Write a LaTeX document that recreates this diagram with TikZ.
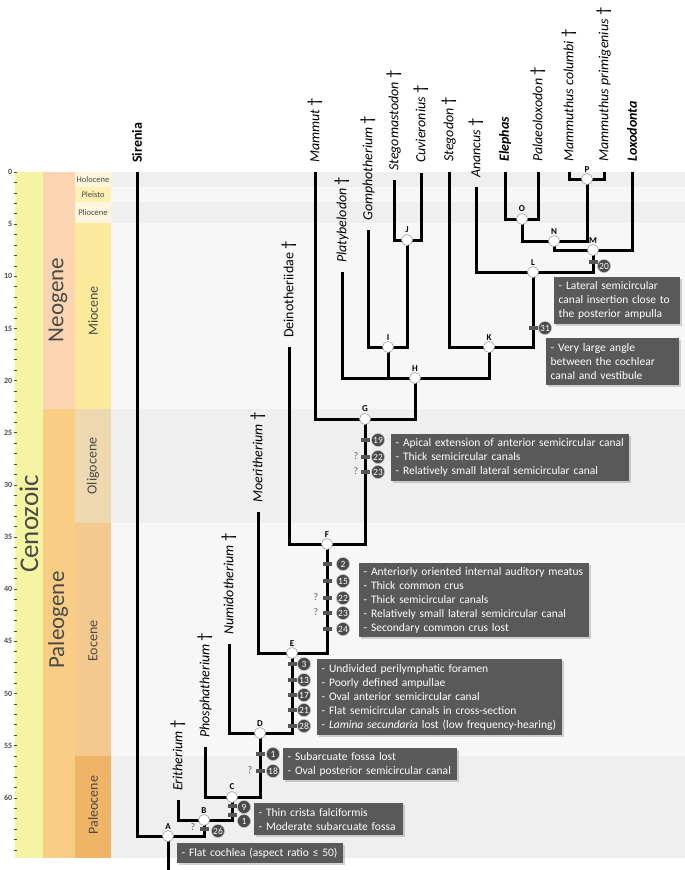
\documentclass[tikz,border=0pt]{standalone}
\usepackage{fontspec}
\setmainfont{Carlito}
\usetikzlibrary{shadows}
\definecolor{cenoz}{HTML}{F4F4A2}
\definecolor{neog}{HTML}{FBD5B1}
\definecolor{paleog}{HTML}{F9CD84}
\definecolor{holo}{HTML}{FDF6DA}
\definecolor{pleis}{HTML}{FDF0B3}
\definecolor{plio}{HTML}{FDF5DD}
\definecolor{mio}{HTML}{FCEA9C}
\definecolor{oligo}{HTML}{EED8B0}
\definecolor{eoc}{HTML}{F4C98F}
\definecolor{paleoc}{HTML}{EFB466}
\definecolor{banddark}{HTML}{EFEFEF}
\definecolor{bandlight}{HTML}{F7F7F7}
\definecolor{boxgray}{HTML}{595959}
\definecolor{numgray}{HTML}{4A4A4A}
\definecolor{tickgray}{HTML}{555555}
\definecolor{scaletext}{HTML}{4A4A4A}
\definecolor{qcol}{HTML}{6A5A40}
\newcommand\mychar[6]{\node[tickmk] (k#1) at (#2,#3) {}; \node[numc] (c#1) at (#4,#5) {#6};}
\newcommand\dg{ {\fontsize{17}{17}\selectfont †}}
\begin{document}
\begin{tikzpicture}[x=1pt,y=-1pt,
  branch/.style={line width=3pt,black,line join=miter},
  nd/.style={circle,fill=white,draw=gray!70,line width=0.6pt,minimum size=11pt,inner sep=0pt},
  nlab/.style={font=\bfseries\fontsize{9}{9}\selectfont,inner sep=0.5pt},
  taxon/.style={rotate=90,anchor=west,inner sep=0pt,font=\fontsize{14}{14}\selectfont},
  charbox/.style={fill=boxgray,text=white,align=left,anchor=north west,inner xsep=4.5pt,inner ysep=0pt,
     font=\fontsize{11.5}{14}\selectfont,drop shadow={shadow xshift=1.5pt,shadow yshift=-1.5pt,opacity=0.35}},
  tickmk/.style={rectangle,fill=tickgray,minimum width=9pt,minimum height=3.5pt,inner sep=0pt},
  numc/.style={circle,fill=numgray,draw=gray!50,line width=0.5pt,minimum size=13pt,inner sep=0pt,text=white,font=\fontsize{9.5}{9.5}\selectfont},
  qm/.style={text=qcol,font=\fontsize{10}{10}\selectfont,inner sep=0pt},
  scalenum/.style={text=scaletext,font=\bfseries\fontsize{8}{8}\selectfont,inner sep=0pt},
  eplab/.style={rotate=90,text=scaletext,inner sep=0pt},
]
\useasboundingbox (0,0) rectangle (685,870);
% background bands
\fill[banddark] (111,172) rectangle (685,187);
\fill[bandlight] (111,187) rectangle (685,202);
\fill[banddark] (111,202) rectangle (685,223);
\fill[bandlight] (111,223) rectangle (685,409);
\fill[banddark] (111,409) rectangle (685,523);
\fill[bandlight] (111,523) rectangle (685,756);
\fill[banddark] (111,756) rectangle (685,858);
% time scale columns
\fill[cenoz] (15,172) rectangle (43,858);
\fill[neog] (43,172) rectangle (75,409);
\fill[paleog] (43,409) rectangle (75,858);
\fill[holo] (75,172) rectangle (111,187);
\fill[pleis] (75,187) rectangle (111,202);
\fill[plio] (75,202) rectangle (111,223);
\fill[mio] (75,223) rectangle (111,409);
\fill[oligo] (75,409) rectangle (111,523);
\fill[eoc] (75,523) rectangle (111,756);
\fill[paleoc] (75,756) rectangle (111,858);
\node[eplab,font=\fontsize{27}{27}\selectfont] (lCen) at (29,524) {Cenozoic};
\node[eplab,font=\fontsize{23}{23}\selectfont] (lNeo) at (58,300) {Neogene};
\node[eplab,font=\fontsize{23}{23}\selectfont] (lPal) at (58,620) {Paleogene};
\node[text=scaletext,inner sep=0pt,font=\fontsize{8.5}{8.5}\selectfont] (lHol) at (93,179.5) {Holocene};
\node[text=scaletext,inner sep=0pt,font=\fontsize{8.5}{8.5}\selectfont] (lPle) at (93,194.5) {Pleisto};
\node[text=scaletext,inner sep=0pt,font=\fontsize{8.5}{8.5}\selectfont] (lPli) at (93,212.5) {Pliocene};
\node[eplab,font=\fontsize{14}{14}\selectfont] (lMio) at (93,311) {Miocene};
\node[eplab,font=\fontsize{14}{14}\selectfont] (lOli) at (93,466) {Oligocene};
\node[eplab,font=\fontsize{14}{14}\selectfont] (lEoc) at (93,641) {Eocene};
\node[eplab,font=\fontsize{14}{14}\selectfont] (lPac) at (93,805) {Paleocene};
\foreach \t in {0,...,65} \draw[scaletext,line width=0.6pt] (14,{172+10.43*\t}) -- (16.5,{172+10.43*\t});
\foreach \t in {0,5,...,60} \node[scalenum,anchor=east] (s\t) at (12.5,{172+10.43*\t}) {\t};
% coordinates
\coordinate (tSir) at (137,172);
\coordinate (tMammut) at (315,172);
\coordinate (tPlaty) at (342,272);
\coordinate (tGompho) at (368,230);
\coordinate (tStego) at (394,180);
\coordinate (tCuv) at (421,173);
\coordinate (tStegodon) at (449,172);
\coordinate (tAnan) at (476,187);
\coordinate (tEle) at (505,172);
\coordinate (tPalaeo) at (538,172);
\coordinate (tMcol) at (569,172);
\coordinate (tMpri) at (604,172);
\coordinate (tLox) at (632,172);
\coordinate (tDein) at (289,347);
\coordinate (tMoer) at (258,512);
\coordinate (tNumi) at (229,644);
\coordinate (tPhos) at (205,747);
\coordinate (tEri) at (178,800);
\coordinate (A) at (168,836);
\coordinate (B) at (204,820);
\coordinate (C) at (232,797);
\coordinate (D) at (260,733);
\coordinate (E) at (292,653);
\coordinate (F) at (327,544);
\coordinate (G) at (365,419);
\coordinate (H) at (415,378);
\coordinate (I) at (388,347);
\coordinate (J) at (407,240);
\coordinate (K) at (489,347);
\coordinate (L) at (533,272);
\coordinate (M) at (593,250);
\coordinate (N) at (554,241);
\coordinate (O) at (522,219);
\coordinate (P) at (587,179);
\coordinate (root) at (168,870);
% branches
\draw[branch] (A) -- (root);
\draw[branch] (tSir) |- (A) -| (B);
\draw[branch] (tEri) |- (B) -| (C);
\draw[branch] (tPhos) |- (C) -| (D);
\draw[branch] (tNumi) |- (D) -| (E);
\draw[branch] (tMoer) |- (E) -| (F);
\draw[branch] (tDein) |- (F) -| (G);
\draw[branch] (tMammut) |- (G) -| (H);
\draw[branch] (tPlaty) |- (H) -| (K);
\draw[branch] (I) -- (I |- H);
\draw[branch] (tGompho) |- (I) -| (J);
\draw[branch] (tStego) |- (J) -| (tCuv);
\draw[branch] (tStegodon) |- (K) -| (L);
\draw[branch] (tAnan) |- (L) -| (M);
\draw[branch] (N) |- (M) -| (tLox);
\draw[branch] (O) |- (N) -| (P);
\draw[branch] (tEle) |- (O) -| (tPalaeo);
\draw[branch] (tMcol) |- (P) -| (tMpri);
% internal nodes
\foreach \n in {A,B,C,D,E,F,G,H,I,J,K,L,M,N,O,P}
  \node[nd,label={[nlab,label distance=0.5pt]90:\n}] (n\n) at (\n) {};
% taxa
\node[taxon,font=\bfseries\fontsize{14}{14}\selectfont] (xSir) at ([yshift=9pt]tSir) {Sirenia};
\node[taxon] (xMammut) at ([yshift=9pt]tMammut) {\textit{Mammut}\dg};
\node[taxon] (xPlaty) at ([yshift=9pt]tPlaty) {\textit{Platybelodon}\dg};
\node[taxon] (xGompho) at ([yshift=9pt]tGompho) {\textit{Gomphotherium}\dg};
\node[taxon] (xStego) at ([yshift=9pt]tStego) {\textit{Stegomastodon}\dg};
\node[taxon] (xCuv) at ([yshift=10pt]tCuv) {\textit{Cuvieronius}\dg};
\node[taxon] (xStegodon) at ([yshift=10pt]tStegodon) {\textit{Stegodon}\dg};
\node[taxon] (xAnan) at ([yshift=9pt]tAnan) {\textit{Anancus}\dg};
\node[taxon,font=\bfseries\itshape\fontsize{14}{14}\selectfont] (xEle) at ([yshift=10pt]tEle) {Elephas};
\node[taxon] (xPalaeo) at ([yshift=10pt]tPalaeo) {\textit{Palaeoloxodon}\dg};
\node[taxon] (xMcol) at ([yshift=10pt]tMcol) {\textit{Mammuthus columbi}\dg};
\node[taxon] (xMpri) at ([yshift=10pt]tMpri) {\textit{Mammuthus primigenius}\dg};
\node[taxon,font=\bfseries\itshape\fontsize{14}{14}\selectfont] (xLox) at ([yshift=10pt]tLox) {Loxodonta};
\node[taxon] (xDein) at ([yshift=9pt]tDein) {Deinotheriidae\dg};
\node[taxon] (xMoer) at ([yshift=9pt]tMoer) {\textit{Moeritherium}\dg};
\node[taxon] (xNumi) at ([yshift=9pt]tNumi) {\textit{Numidotherium}\dg};
\node[taxon] (xPhos) at ([yshift=9pt]tPhos) {\textit{Phosphatherium}\dg};
\node[taxon] (xEri) at ([yshift=9pt]tEri) {\textit{Eritherium}\dg};
% character markers
\mychar{m20}{593}{262}{604}{266}{20}
\mychar{l31}{533}{328}{545}{328}{31}
\mychar{g19}{365}{440}{378}{440}{19}
\mychar{g22}{365}{457}{378}{457}{22}
\mychar{g23}{365}{472}{378}{472}{23}
\node[qm] (qg22) at (356,456) {?};
\node[qm] (qg23) at (356,471) {?};
\mychar{f2}{327}{564}{343}{564}{2}
\mychar{f15}{327}{581}{343}{581}{15}
\mychar{f22}{327}{598}{343}{598}{22}
\mychar{f23}{327}{613}{343}{613}{23}
\mychar{f24}{327}{629}{343}{629}{24}
\node[qm] (qf22) at (316,597) {?};
\node[qm] (qf23) at (316,612) {?};
\mychar{e3}{292}{664}{304}{664}{3}
\mychar{e13}{292}{680}{304}{680}{13}
\mychar{e17}{292}{695}{304}{695}{17}
\mychar{e21}{292}{710}{304}{710}{21}
\mychar{e28}{292}{726}{304}{726}{28}
\mychar{d1}{260}{754}{273}{754}{1}
\mychar{d18}{260}{771}{273}{771}{18}
\node[qm] (qd18) at (250,770) {?};
\mychar{c9}{232}{806}{244}{807}{9}
\mychar{c1}{232}{815}{244}{821}{1}
\mychar{b26}{204}{829}{218}{831}{26}
\node[qm] (qb26) at (193,827) {?};
% boxes
\node[charbox,text width=157pt,minimum height=20pt] (bxA) at (177,843) {- Flat cochlea (aspect ratio ≤ 50)};
\node[charbox,text width=140pt,minimum height=32pt] (bxC) at (254,803) {- Thin crista falciformis\\- Moderate subarcuate fossa};
\node[charbox,text width=165pt,minimum height=32pt] (bxD) at (283,748) {- Subarcuate fossa lost\\- Oval posterior semicircular canal};
\node[charbox,text width=236pt,minimum height=76pt] (bxE) at (317,659) {- Undivided perilymphatic foramen\\- Poorly defined ampullae\\- Oval anterior semicircular canal\\- Flat semicircular canals in cross-section\\- \textit{Lamina secundaria} lost (low frequency-hearing)};
\node[charbox,text width=221pt,minimum height=74pt] (bxF) at (359,563) {- Anteriorly oriented internal auditory meatus\\- Thick common crus\\- Thick semicircular canals\\- Relatively small lateral semicircular canal\\- Secondary common crus lost};
\node[charbox,text width=229pt,minimum height=47pt] (bxG) at (391,434) {- Apical extension of anterior semicircular canal\\- Thick semicircular canals\\- Relatively small lateral semicircular canal};
\node[charbox,text width=124pt,minimum height=47pt] (bx31) at (546,338) {- Very large angle\\between the cochlear\\canal and vestibule};
\node[charbox,text width=117pt,minimum height=47pt] (bx20) at (554,277) {- Lateral semicircular\\canal insertion close to\\the posterior ampulla};
\end{tikzpicture}
\end{document}
